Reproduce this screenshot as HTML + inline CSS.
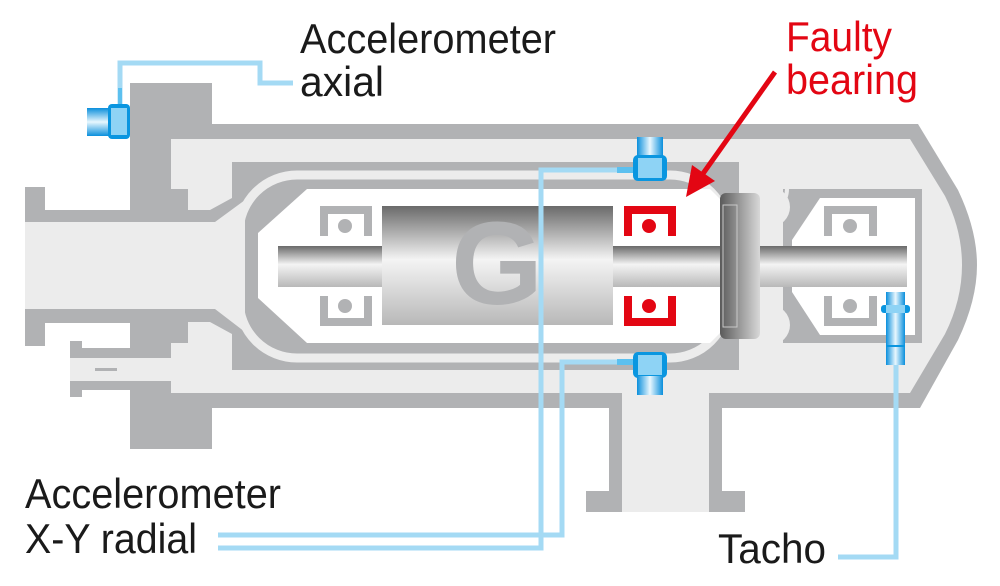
<!DOCTYPE html>
<html><head><meta charset="utf-8"><style>
html,body{margin:0;padding:0;background:#fff}
svg{display:block}
text{font-family:"Liberation Sans",sans-serif}
</style></head><body>
<svg width="1000" height="586" viewBox="0 0 1000 586" xmlns="http://www.w3.org/2000/svg">
<defs>
<linearGradient id="cyl" x1="0" y1="0" x2="0" y2="1">
<stop offset="0" stop-color="#6a6a6a"/><stop offset="0.45" stop-color="#f4f4f4"/><stop offset="1" stop-color="#b8b8b8"/>
</linearGradient>
<linearGradient id="disc" x1="0" y1="0" x2="1" y2="0">
<stop offset="0" stop-color="#5a5a5a"/><stop offset="0.5" stop-color="#9a9a9a"/><stop offset="1" stop-color="#d8d8d8"/>
</linearGradient>
<linearGradient id="bh" x1="0" y1="0" x2="1" y2="0">
<stop offset="0" stop-color="#0a8fdc"/><stop offset="0.5" stop-color="#e8f7fe"/><stop offset="1" stop-color="#0a8fdc"/>
</linearGradient>
<linearGradient id="bv" x1="0" y1="0" x2="0" y2="1">
<stop offset="0" stop-color="#0a8fdc"/><stop offset="0.5" stop-color="#e8f7fe"/><stop offset="1" stop-color="#0a8fdc"/>
</linearGradient>
</defs>

<!-- outer shell -->
<path d="M171,124 H918 L958,190 Q977,230 977,265 Q977,300 958,340 L920,408 H171 Z" fill="#b1b2b4"/>
<path d="M171,139 H910 L945,196 Q962,230 962,265 Q962,300 945,334 L910,393 H171 Z" fill="#ececec"/>

<!-- bottom outlet -->
<rect x="609" y="393" width="113" height="98" fill="#b1b2b4"/>
<rect x="586" y="491" width="159" height="21" fill="#b1b2b4"/>
<rect x="622" y="385" width="87" height="127" fill="#ececec"/>

<!-- left flanges -->
<rect x="130" y="83" width="41" height="139" fill="#b1b2b4"/>
<rect x="171" y="83" width="41" height="41" fill="#b1b2b4"/>
<rect x="130" y="309" width="41" height="140" fill="#b1b2b4"/>
<rect x="171" y="393" width="41" height="56" fill="#b1b2b4"/>
<rect x="25" y="187" width="20" height="159" fill="#b1b2b4"/>
<rect x="25" y="210" width="105" height="12" fill="#b1b2b4"/>
<rect x="25" y="309" width="105" height="14" fill="#b1b2b4"/>
<polygon points="171,189 188,189 188,210 210,210 232,198 232,222 171,222" fill="#b1b2b4"/>
<polygon points="171,343 188,343 188,322 210,322 232,334 232,309 171,309" fill="#b1b2b4"/>
<!-- bottom nozzle -->
<rect x="82" y="348" width="48" height="42" fill="#b1b2b4"/>
<rect x="70" y="341" width="12" height="56" fill="#b1b2b4"/>
<rect x="70" y="358" width="165" height="23" fill="#ececec"/>
<rect x="95" y="368" width="22" height="3" fill="#b1b2b4"/>

<!-- inner housing -->
<rect x="232" y="162" width="507" height="208" fill="#b1b2b4"/>
<path d="M25,222 H215 L245,200 V332 L215,309 H25 Z" fill="#ececec"/>
<rect x="239" y="175" width="489" height="183" rx="58" fill="none" stroke="#ececec" stroke-width="9"/>
<polygon points="307,189 710,189 720,199 720,333 710,343 307,343 258,298 258,233" fill="#fff"/>

<!-- right cavity -->
<rect x="783" y="189" width="139" height="154" fill="#b1b2b4"/>
<circle cx="770" cy="207" r="20" fill="#ececec"/>
<circle cx="770" cy="325" r="20" fill="#ececec"/>
<path d="M787,189 A24,24 0 0 1 763,213" fill="none" stroke="#ececec" stroke-width="4"/>
<polygon points="820,198 915,198 915,335 820,335 792,292 792,240" fill="#fff"/>

<!-- bearings -->
<g fill="#b1b2b4">
<path d="M320,206 H372 V236 H364 V214 H328 V236 H320 Z"/>
<path d="M320,326 H372 V296 H364 V318 H328 V296 H320 Z"/>
<path d="M824,206 H877 V236 H869 V214 H832 V236 H824 Z"/>
<path d="M824,326 H877 V296 H869 V318 H832 V296 H824 Z"/>
<circle cx="345" cy="226" r="7"/><circle cx="345" cy="306" r="7"/>
<circle cx="850" cy="226" r="7"/><circle cx="850" cy="306" r="7"/>
</g>
<g fill="#e30613">
<path d="M624,206 H676 V236 H668 V214 H632 V236 H624 Z"/>
<path d="M624,326 H676 V296 H668 V318 H632 V296 H624 Z"/>
<circle cx="649" cy="226" r="7"/><circle cx="649" cy="306" r="7"/>
</g>

<!-- shafts & generator -->
<rect x="278" y="246" width="110" height="41" fill="url(#cyl)"/>
<rect x="610" y="246" width="297" height="41" fill="url(#cyl)"/>
<rect x="382" y="206" width="231" height="119" fill="url(#cyl)"/>
<text x="497" y="304" font-size="118" font-weight="bold" fill="#b1b2b4" text-anchor="middle">G</text>
<rect x="720" y="193" width="40" height="146" rx="6" fill="url(#disc)"/>
<rect x="723" y="205" width="14" height="122" fill="none" stroke="#c8c8c8" stroke-width="1"/>

<!-- wires -->
<g fill="none" stroke="#a4daf4" stroke-width="5">
<path d="M120,104 V63 H260 V83 H293"/>
<path d="M617,170 H541 V548 H218"/>
<path d="M617,362 H562 V535 H218"/>
<path d="M896,365 V557 H838"/>
</g>

<!-- sensors -->
<g>
<rect x="118" y="88" width="4" height="18" fill="#5cc0ef"/>
<rect x="87" y="108" width="25" height="28" fill="url(#bv)"/>
<rect x="108" y="104" width="22" height="35" rx="4" fill="#0a96e0"/>
<rect x="111" y="108" width="16" height="27" fill="#8ed3f5"/>

<rect x="617" y="167" width="18" height="6" fill="#5cc0ef"/>
<rect x="637" y="137" width="26" height="20" fill="url(#bh)"/>
<rect x="633" y="155" width="34" height="26" rx="5" fill="#0a96e0"/>
<rect x="638" y="158" width="24" height="20" fill="#8ed3f5"/>

<rect x="617" y="359" width="18" height="6" fill="#5cc0ef"/>
<rect x="633" y="352" width="34" height="26" rx="5" fill="#0a96e0"/>
<rect x="638" y="355" width="24" height="20" fill="#8ed3f5"/>
<rect x="637" y="376" width="26" height="19" fill="url(#bh)"/>

<rect x="886" y="292" width="19" height="73" fill="url(#bh)"/>
<rect x="881" y="305" width="29" height="8" rx="3" fill="#0a96e0"/>
<rect x="886" y="305" width="19" height="8" fill="#8ed3f5"/>
<rect x="886" y="345" width="19" height="2" fill="#0a96e0"/>
</g>

<!-- arrow -->
<line x1="775" y1="72" x2="702" y2="175" stroke="#e30613" stroke-width="5"/>
<polygon points="686,197 692,165 715,181" fill="#e30613"/>

<!-- labels -->
<g font-size="42" fill="#1a1a1a">
<text x="300" y="53" textLength="256" lengthAdjust="spacingAndGlyphs">Accelerometer</text>
<text x="300" y="96" textLength="84" lengthAdjust="spacingAndGlyphs">axial</text>
<text x="25" y="508" textLength="256" lengthAdjust="spacingAndGlyphs">Accelerometer</text>
<text x="25" y="553" textLength="172" lengthAdjust="spacingAndGlyphs">X-Y radial</text>
<text x="718" y="563" textLength="108" lengthAdjust="spacingAndGlyphs">Tacho</text>
</g>
<g font-size="42" fill="#e30613">
<text x="786" y="51" textLength="106" lengthAdjust="spacingAndGlyphs">Faulty</text>
<text x="786" y="94" textLength="132" lengthAdjust="spacingAndGlyphs">bearing</text>
</g>
</svg>
</body></html>
